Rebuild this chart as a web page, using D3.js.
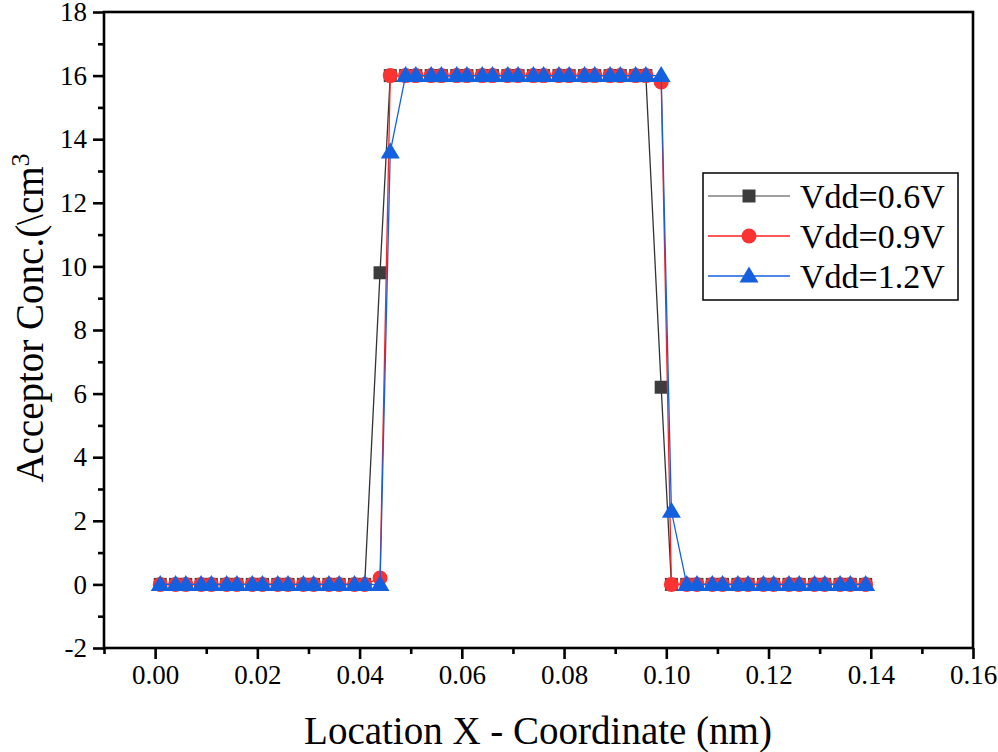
<!DOCTYPE html>
<html>
<head>
<meta charset="utf-8">
<script src="https://cdn.jsdelivr.net/npm/d3@7"></script>
<style>
  html, body { margin: 0; padding: 0; background: #fff; }
  svg { display: block; }
  text { font-family: "Liberation Serif", "Times New Roman", serif; fill: #000; }
</style>
</head>
<body>
<svg id="chart" width="998" height="752"></svg>
<script>
// ---- data ----
const xValues = [0.001, 0.004, 0.006, 0.009, 0.011, 0.014, 0.016, 0.019, 0.021, 0.024,
                 0.026, 0.029, 0.031, 0.034, 0.036, 0.039, 0.041, 0.044, 0.046, 0.049,
                 0.051, 0.054, 0.056, 0.059, 0.061, 0.064, 0.066, 0.069, 0.071, 0.074,
                 0.076, 0.079, 0.081, 0.084, 0.086, 0.089, 0.091, 0.094, 0.096, 0.099,
                 0.101, 0.104, 0.106, 0.109, 0.111, 0.114, 0.116, 0.119, 0.121, 0.124,
                 0.126, 0.129, 0.131, 0.134, 0.136, 0.139];
const vdd06 = [0, 0, 0, 0, 0, 0, 0, 0, 0, 0,
               0, 0, 0, 0, 0, 0, 0, 9.8, 16, 16,
               16, 16, 16, 16, 16, 16, 16, 16, 16, 16,
               16, 16, 16, 16, 16, 16, 16, 16, 16, 6.2,
               0, 0, 0, 0, 0, 0, 0, 0, 0, 0,
               0, 0, 0, 0, 0, 0];
const vdd09 = [0, 0, 0, 0, 0, 0, 0, 0, 0, 0,
               0, 0, 0, 0, 0, 0, 0, 0.2, 16, 16,
               16, 16, 16, 16, 16, 16, 16, 16, 16, 16,
               16, 16, 16, 16, 16, 16, 16, 16, 16, 15.8,
               0, 0, 0, 0, 0, 0, 0, 0, 0, 0,
               0, 0, 0, 0, 0, 0];
const vdd12 = [0, 0, 0, 0, 0, 0, 0, 0, 0, 0,
               0, 0, 0, 0, 0, 0, 0, 0, 13.6, 16,
               16, 16, 16, 16, 16, 16, 16, 16, 16, 16,
               16, 16, 16, 16, 16, 16, 16, 16, 16, 16,
               2.3, 0, 0, 0, 0, 0, 0, 0, 0, 0,
               0, 0, 0, 0, 0, 0];
const seriesNames = ["Vdd=0.6V", "Vdd=0.9V", "Vdd=1.2V"];
const xTicks = [0.00, 0.02, 0.04, 0.06, 0.08, 0.10, 0.12, 0.14, 0.16];
const xMinorTicks = [-0.01, 0.01, 0.03, 0.05, 0.07, 0.09, 0.11, 0.13, 0.15];
const yTicks = [-2, 0, 2, 4, 6, 8, 10, 12, 14, 16, 18];
const yMinorTicks = [-1, 1, 3, 5, 7, 9, 11, 13, 15, 17];
const xTitle = "Location X - Coordinate (nm)";
const yTitle = "Acceptor Conc.(\\cm";

// ---- layout ----
const FONT = "'Liberation Serif', 'Times New Roman', serif";
const svg = d3.select("#chart");
const L = 104, R = 973, T = 12, B = 648;
const x = d3.scaleLinear().domain([-0.01, 0.16]).range([L, R]);
const y = d3.scaleLinear().domain([-2, 18]).range([B, T]);

const styles = [
  { line: "#333333", fill: "#3c3c3c", shape: "square" },
  { line: "#ff2020", fill: "#fa3232", shape: "circle" },
  { line: "#1560df", fill: "#1560df", shape: "triangle" }
];
const data = [vdd06, vdd09, vdd12];

function markerPath(shape) {
  if (shape === "square") return "M-6.5,-6.5H6.5V6.5H-6.5Z";
  if (shape === "circle") return d3.symbol(d3.symbolCircle, Math.PI * 7.5 * 7.5)();
  return "M0,-9.5L9.5,6.5L-9.5,6.5Z";
}

// series
const line = d3.line().x(d => x(d[0])).y(d => y(d[1]));
data.forEach((vals, i) => {
  const pts = xValues.map((xv, j) => [xv, vals[j]]);
  const g = svg.append("g");
  g.append("path").datum(pts)
    .attr("d", line)
    .attr("fill", "none")
    .attr("stroke", styles[i].line)
    .attr("stroke-width", 1.3);
  g.selectAll("path.m").data(pts).enter().append("path")
    .attr("class", "m")
    .attr("d", markerPath(styles[i].shape))
    .attr("transform", d => `translate(${x(d[0])},${y(d[1])})`)
    .attr("fill", styles[i].fill);
});

// axes
const axisStroke = 2.6;
function styleAxis(g) {
  g.attr("font-family", FONT).attr("font-size", 27);
  g.select(".domain").remove();
  g.selectAll(".tick line").attr("stroke", "#000").attr("stroke-width", axisStroke);
  g.selectAll(".tick text").attr("font-family", FONT).style("font-family", FONT).style("font-size", "27px");
}
svg.append("g").attr("transform", `translate(0,${B})`)
  .call(d3.axisBottom(x).tickValues(xTicks).tickSize(11).tickPadding(6).tickFormat(d => d.toFixed(2)))
  .call(styleAxis);
svg.append("g").attr("transform", `translate(0,${B})`)
  .call(d3.axisBottom(x).tickValues(xMinorTicks).tickSize(6).tickFormat(""))
  .call(styleAxis);
svg.append("g").attr("transform", `translate(${L},0)`)
  .call(d3.axisLeft(y).tickValues(yTicks).tickSize(11).tickPadding(6).tickFormat(d => String(d)))
  .call(styleAxis);
svg.append("g").attr("transform", `translate(${L},0)`)
  .call(d3.axisLeft(y).tickValues(yMinorTicks).tickSize(6).tickFormat(""))
  .call(styleAxis);

// frame
svg.append("rect").attr("x", L).attr("y", T).attr("width", R - L).attr("height", B - T)
  .attr("fill", "none").attr("stroke", "#000").attr("stroke-width", axisStroke);

// titles
svg.append("text").attr("x", 538).attr("y", 744)
  .attr("text-anchor", "middle").style("font-size", "39px").text(xTitle);
const yt = svg.append("text").attr("transform", "translate(43,318) rotate(-90)")
  .attr("text-anchor", "middle").style("font-size", "39px");
yt.append("tspan").text(yTitle);
yt.append("tspan").attr("dy", -14).style("font-size", "26px").text("3");

// legend
const lg = svg.append("g").attr("transform", "translate(703,173)");
lg.append("rect").attr("width", 255).attr("height", 127)
  .attr("fill", "#fff").attr("stroke", "#000").attr("stroke-width", 1.5);
seriesNames.forEach((name, i) => {
  const cy = 23 + i * 40;
  lg.append("line").attr("x1", 5).attr("x2", 87).attr("y1", cy).attr("y2", cy)
    .attr("stroke", i === 0 ? "#808080" : styles[i].line).attr("stroke-width", 1.5);
  lg.append("path").attr("d", markerPath(styles[i].shape))
    .attr("transform", `translate(46,${cy})`).attr("fill", styles[i].fill);
  lg.append("text").attr("x", 97).attr("y", cy + 12).style("font-size", "34px").text(name);
});
</script>
</body>
</html>
